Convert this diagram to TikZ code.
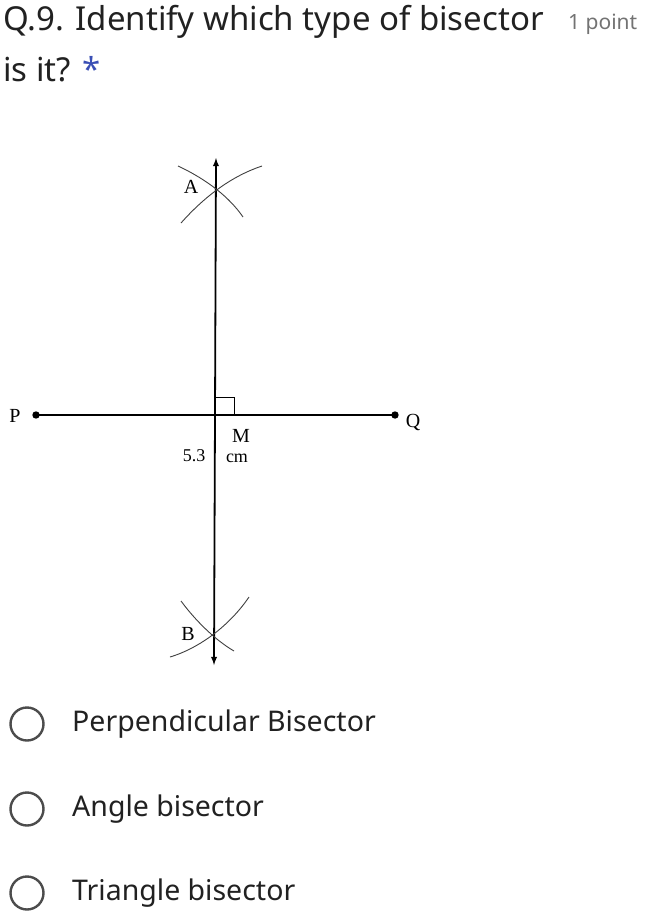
\documentclass[tikz,border=0pt]{standalone}
\usepackage{fontspec}
\setmainfont{Noto Sans}
\newfontfamily\tms{Liberation Serif}
\begin{document}
\begin{tikzpicture}[x=1pt,y=-1pt,
  geo/.style={line width=1.8pt,black},
  arcl/.style={line width=0.9pt,black!75},
  lab/.style={font=\tms\fontsize{20}{20}\selectfont,inner sep=0pt},
  radio/.style={circle,draw=black!70,line width=2.4pt,minimum size=33pt,inner sep=0pt},
  opt/.style={anchor=west,font=\fontsize{28.5}{28.5}\selectfont,inner sep=0pt,text=black!87}]
\useasboundingbox (0,0) rectangle (650,919);
\node[anchor=base west,inner sep=0pt,font=\fontsize{33}{33}\selectfont,text=black!87] (t1) at (3,30) {Q.9. Identify which type of bisector};
\node[anchor=base west,inner sep=0pt,font=\fontsize{21}{21}\selectfont,text=black!55] (pt) at (568,29) {1 point};
\node[anchor=base west,inner sep=0pt,font=\fontsize{33}{33}\selectfont,text=black!87] (t2) at (3,81) {is it? \textcolor[HTML]{3A4FB5}{*}};
% geometry
\coordinate (top) at (216,158);
\coordinate (bot) at (214,665);
\coordinate (Pp) at (36,415);
\coordinate (Qp) at (395,415);
\coordinate (Mp) at (215,415);
\draw[geo,-latex] (Mp) -- (top);
\draw[geo,-latex] (Mp) -- (bot);
\draw[geo] (Pp) -- (Qp);
\fill (Pp) circle (3.7pt);
\fill (Qp) circle (3.7pt);
\draw[line width=1pt] (215,397) -- (234,397) -- (234,415);
% arcs at A
\draw[arcl] (178,166) .. controls (208,180) and (230,198) .. (243,217);
\draw[arcl] (181,223) .. controls (205,196) and (232,176) .. (262,166);
% arcs at B
\draw[arcl] (181,601) .. controls (195,620) and (215,640) .. (234,651);
\draw[arcl] (170,657) .. controls (200,648) and (230,625) .. (249,597);
\node[lab] (A) at (191,187) {A};
\node[lab] (B) at (188,634) {B};
\node[lab] (P) at (15,416) {P};
\node[lab] (Q) at (413,422) {Q};
\node[lab] (M) at (241,436) {M};
\node[lab,font=\tms\fontsize{18}{18}\selectfont] (d) at (194,456) {5.3};
\node[lab,font=\tms\fontsize{18}{18}\selectfont] (c) at (237,458) {cm};
% options
\node[radio] (r1) at (27,724) {};
\node[radio] (r2) at (27,809) {};
\node[radio] (r3) at (27,893) {};
\node[opt] (o1) at (72,724) {Perpendicular Bisector};
\node[opt] (o2) at (72,809) {Angle bisector};
\node[opt] (o3) at (72,893) {Triangle bisector};
\end{tikzpicture}
\end{document}
